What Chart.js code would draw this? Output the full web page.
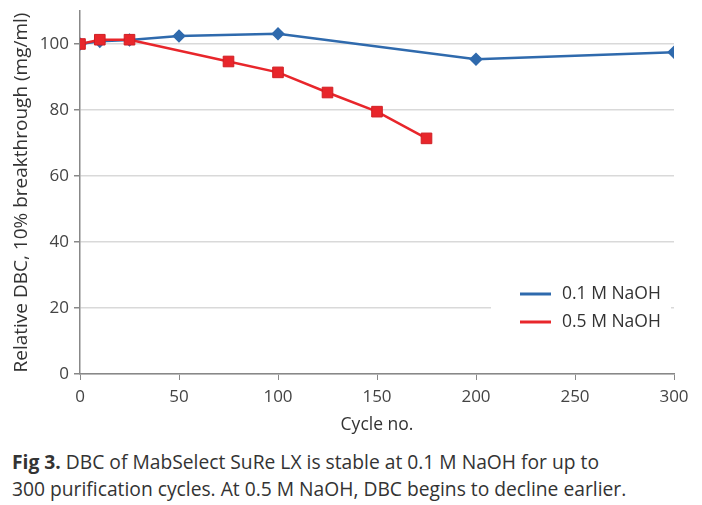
<!DOCTYPE html>
<html>
<head>
<meta charset="utf-8">
<script src="https://cdn.jsdelivr.net/npm/chart.js@4/dist/chart.umd.min.js"></script>
<style>
  body { margin: 0; background: #fff; width: 702px; height: 505px; overflow: hidden; }
  #wrap { position: relative; width: 702px; height: 440px; }
  #caption { font-family: "Open Sans", sans-serif; font-size: 19.25px; color: #333; margin: 0 0 0 12px; line-height: 27px; position: absolute; top: 448px; }
  #caption b { font-weight: 700; }
</style>
</head>
<body>
<div id="wrap"><canvas id="dbcChart" width="702" height="440"></canvas></div>
<div id="caption"><b>Fig 3.</b> DBC of MabSelect SuRe LX is stable at 0.1 M NaOH for up to<br>300 purification cycles. At 0.5 M NaOH, DBC begins to decline earlier.</div>
<script>
// data
const cycles01 = [0, 10, 25, 50, 100, 200, 300];
const dbc01 = [100, 100.8, 101.2, 102.4, 103.1, 95.4, 97.5];
const cycles05 = [0, 10, 25, 75, 100, 125, 150, 175];
const dbc05 = [100, 101.3, 101.3, 94.7, 91.4, 85.3, 79.5, 71.4];
const xTicks = [0, 50, 100, 150, 200, 250, 300];
const yTicks = [0, 20, 40, 60, 80, 100];
const seriesNames = ['0.1 M NaOH', '0.5 M NaOH'];

const blue = '#2f6aad';
const red = '#e8262b';
const tickFont = { family: 'Open Sans', size: 17 };

// legend drawn inside the plot, with a white box behind it
const innerLegend = {
    id: 'innerLegend',
    afterDraw: function(chart){
        const ctx = chart.ctx;
        ctx.save();
        ctx.fillStyle = '#fff';
        ctx.fillRect(491, 276, 180, 62);
        chart.data.datasets.forEach(function(ds, i){
            const y = 294 + i * 28;
            ctx.strokeStyle = ds.borderColor;
            ctx.lineWidth = 3;
            ctx.beginPath();
            ctx.moveTo(520, y);
            ctx.lineTo(551, y);
            ctx.stroke();
            ctx.fillStyle = '#333';
            ctx.font = '17.5px "Open Sans"';
            ctx.textBaseline = 'middle';
            ctx.fillText(ds.label, 562, y);
        });
        ctx.restore();
    }
};

const canvas = document.getElementById('dbcChart');
new Chart(canvas, {
    type: 'line',
    data: {
        datasets: [
            {
                label: seriesNames[0],
                data: cycles01.map((c, i) => ({ x: c, y: dbc01[i] })),
                borderColor: blue,
                backgroundColor: blue,
                borderWidth: 2.5,
                pointStyle: 'rectRot',
                pointRadius: 5,
                pointHoverRadius: 5,
                order: 2
            },
            {
                label: seriesNames[1],
                data: cycles05.map((c, i) => ({ x: c, y: dbc05[i] })),
                borderColor: red,
                backgroundColor: red,
                borderWidth: 2.5,
                pointStyle: 'rect',
                pointRadius: 7.5,
                pointHoverRadius: 7.5,
                pointBorderColor: '#d01f24',
                pointBorderWidth: 1,
                order: 1
            }
        ]
    },
    options: {
        responsive: false,
        animation: false,
        layout: { padding: { top: 11, right: 28, left: 0, bottom: 0 } },
        plugins: {
            legend: { display: false },
            tooltip: { enabled: false }
        },
        scales: {
            x: {
                type: 'linear',
                min: 0,
                max: 300,
                afterBuildTicks: function(axis){ axis.ticks = xTicks.map(v => ({ value: v })); },
                afterFit: function(axis){ axis.height = 66; },
                grid: { drawOnChartArea: false, drawTicks: true, tickLength: 6, tickColor: '#888' },
                border: { color: '#888', width: 1.5 },
                ticks: { color: '#444', font: tickFont, padding: 7, maxRotation: 0 },
                title: { display: true, text: 'Cycle no.', color: '#333', font: { family: 'Open Sans', size: 17.5 }, padding: { top: 0 } }
            },
            y: {
                min: 0,
                max: 110,
                afterBuildTicks: function(axis){ axis.ticks = yTicks.map(v => ({ value: v })); },
                afterFit: function(axis){ axis.width = 80; axis.paddingTop = 0; axis.paddingBottom = 0; },
                grid: { color: '#d9d9d9', lineWidth: 1.5, drawTicks: true, tickLength: 6, tickColor: '#888' },
                border: { color: '#888', width: 1.5 },
                ticks: { color: '#444', font: tickFont, padding: 5 },
                title: { display: true, text: 'Relative DBC, 10% breakthrough (mg/ml)', color: '#333', font: { family: 'Open Sans', size: 19 }, padding: { top: 10, bottom: 6 } }
            }
        }
    },
    plugins: [innerLegend]
});
</script>
</body>
</html>
